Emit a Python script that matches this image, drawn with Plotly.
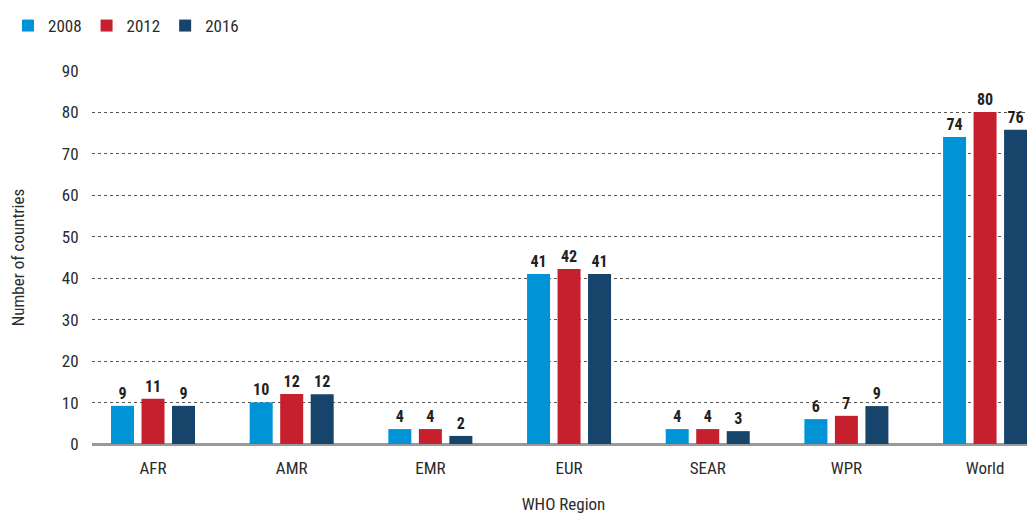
import plotly.graph_objects as go

regions = ["AFR", "AMR", "EMR", "EUR", "SEAR", "WPR", "World"]
years = ["2008", "2012", "2016"]
v2008 = [9.2, 10.05, 3.6, 41.0, 3.6, 6.0, 74.1]
v2012 = [10.9, 12.05, 3.6, 42.2, 3.6, 6.8, 80.1]
v2016 = [9.2, 12.0, 1.95, 41.0, 3.1, 9.15, 75.8]
colors = ["#0094d6", "#c6202f", "#16446a"]
yticks = [0, 10, 20, 30, 40, 50, 60, 70, 80, 90]

FONT = "Roboto Condensed, Liberation Sans Narrow, sans-serif"
TXT = "#2b2b2b"

# page body has an 8px default margin, so the figure is sized to fit the window
W, H = 1027, 506
ML = 84
PW = W - ML

fig = go.Figure()
for name, vals, col in zip(years, [v2008, v2012, v2016], colors):
    fig.add_trace(go.Bar(
        name=name, x=regions, y=vals, marker=dict(color=col, line=dict(width=0)),
        texttemplate="%{y:.0f}", textposition="outside", cliponaxis=False,
        textfont=dict(family=FONT, size=16, color="#231f20", weight="bold"),
    ))

fig.update_layout(
    width=W, height=H,
    barmode="group", bargap=0.34, bargroupgap=0.246,
    plot_bgcolor="white", paper_bgcolor="white",
    margin=dict(l=ML, r=0, t=63, b=70),
    font=dict(family=FONT, size=17, color=TXT),
    legend=dict(orientation="h", x=(-14 - ML) / PW, y=1.0, xref="paper", yref="container",
                xanchor="left", yanchor="top", font=dict(size=17, color=TXT),
                itemwidth=30, traceorder="normal"),
    showlegend=True,
)
fig.update_xaxes(
    range=[-0.44, 6.36], showgrid=False, showline=False, automargin=False,
    ticks="outside", ticklen=9, tickcolor="rgba(0,0,0,0)",
    tickfont=dict(size=17, color=TXT),
    title=dict(text="WHO Region", standoff=22, font=dict(size=17, color=TXT)),
)
fig.update_yaxes(
    range=[0, 90], tickvals=yticks, showgrid=True, gridcolor="#555555",
    griddash="dot", gridwidth=1, automargin=False,
    zeroline=True, zerolinecolor="#999999", zerolinewidth=3,
    ticks="outside", ticklen=9, tickcolor="rgba(0,0,0,0)",
    tickfont=dict(size=17, color=TXT),
    title=dict(text="Number of countries", standoff=33, font=dict(size=17, color=TXT)),
)
fig.write_html("out.html")
